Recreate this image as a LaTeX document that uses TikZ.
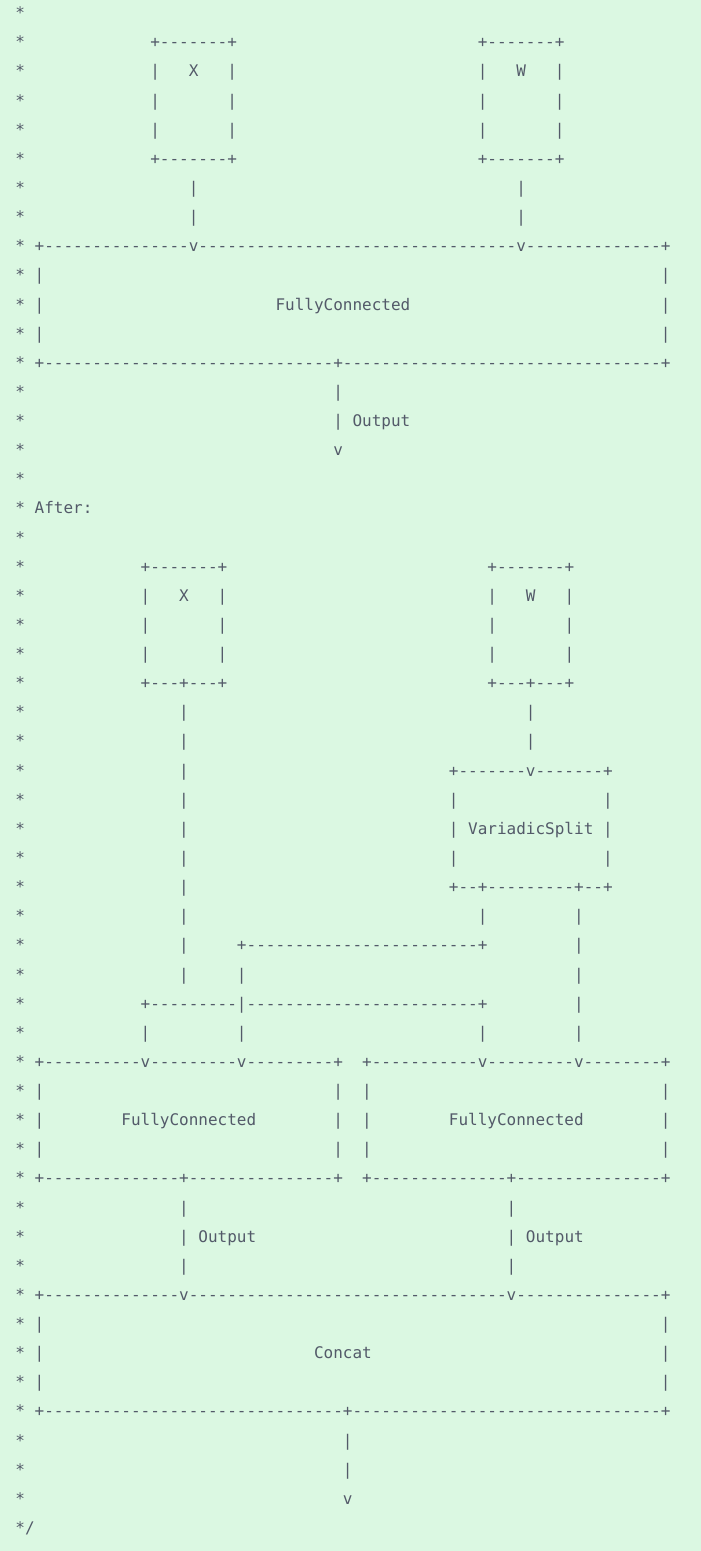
\documentclass[tikz,border=0pt]{standalone}
\usepackage{fontspec}
\setmonofont{DejaVu Sans Mono}
\usetikzlibrary{matrix}
\definecolor{commentbg}{HTML}{DBF8E2}
\definecolor{commenttext}{HTML}{535A69}
\newcommand\colgap[1]{\hskip#1\fontcharwd\font`x\relax}
\ExplSyntaxOn
\newcommand\dashes[1]{\prg_replicate:nn{#1}{-}}
\ExplSyntaxOff

\begin{document}
\begin{tikzpicture}[x=1pt,y=1pt]
            \path[use as bounding box, fill=commentbg] (0,0) rectangle (701,-1551);
            \matrix (m) [matrix of nodes, matrix anchor=north west, inner sep=0pt, row sep=0pt,
                nodes={anchor=base west, inner sep=0pt, text height=20pt, text depth=9.13pt,
                    text=commenttext, font=\ttfamily\fontsize{16pt}{29pt}\selectfont}] at (15.24,1.5) {
                * \\
                *\colgap{13}+\dashes{7}+\colgap{25}+\dashes{7}+ \\
                *\colgap{13}|\colgap{3}X\colgap{3}|\colgap{25}|\colgap{3}W\colgap{3}| \\
                *\colgap{13}|\colgap{7}|\colgap{25}|\colgap{7}| \\
                *\colgap{13}|\colgap{7}|\colgap{25}|\colgap{7}| \\
                *\colgap{13}+\dashes{7}+\colgap{25}+\dashes{7}+ \\
                *\colgap{17}|\colgap{33}| \\
                *\colgap{17}|\colgap{33}| \\
                *\colgap{1}+\dashes{15}v\dashes{33}v\dashes{14}+ \\
                *\colgap{1}|\colgap{64}| \\
                *\colgap{1}|\colgap{24}FullyConnected\colgap{26}| \\
                *\colgap{1}|\colgap{64}| \\
                *\colgap{1}+\dashes{30}+\dashes{33}+ \\
                *\colgap{32}| \\
                *\colgap{32}|\colgap{1}Output \\
                *\colgap{32}v \\
                * \\
                *\colgap{1}After: \\
                * \\
                *\colgap{12}+\dashes{7}+\colgap{27}+\dashes{7}+ \\
                *\colgap{12}|\colgap{3}X\colgap{3}|\colgap{27}|\colgap{3}W\colgap{3}| \\
                *\colgap{12}|\colgap{7}|\colgap{27}|\colgap{7}| \\
                *\colgap{12}|\colgap{7}|\colgap{27}|\colgap{7}| \\
                *\colgap{12}+\dashes{3}+\dashes{3}+\colgap{27}+\dashes{3}+\dashes{3}+ \\
                *\colgap{16}|\colgap{35}| \\
                *\colgap{16}|\colgap{35}| \\
                *\colgap{16}|\colgap{27}+\dashes{7}v\dashes{7}+ \\
                *\colgap{16}|\colgap{27}|\colgap{15}| \\
                *\colgap{16}|\colgap{27}|\colgap{1}VariadicSplit\colgap{1}| \\
                *\colgap{16}|\colgap{27}|\colgap{15}| \\
                *\colgap{16}|\colgap{27}+\dashes{2}+\dashes{9}+\dashes{2}+ \\
                *\colgap{16}|\colgap{30}|\colgap{9}| \\
                *\colgap{16}|\colgap{5}+\dashes{24}+\colgap{9}| \\
                *\colgap{16}|\colgap{5}|\colgap{34}| \\
                *\colgap{12}+\dashes{9}|\dashes{24}+\colgap{9}| \\
                *\colgap{12}|\colgap{9}|\colgap{24}|\colgap{9}| \\
                *\colgap{1}+\dashes{10}v\dashes{9}v\dashes{9}+\colgap{2}+\dashes{11}v\dashes{9}v\dashes{8}+ \\
                *\colgap{1}|\colgap{30}|\colgap{2}|\colgap{30}| \\
                *\colgap{1}|\colgap{8}FullyConnected\colgap{8}|\colgap{2}|\colgap{8}FullyConnected\colgap{8}| \\
                *\colgap{1}|\colgap{30}|\colgap{2}|\colgap{30}| \\
                *\colgap{1}+\dashes{14}+\dashes{15}+\colgap{2}+\dashes{14}+\dashes{15}+ \\
                *\colgap{16}|\colgap{33}| \\
                *\colgap{16}|\colgap{1}Output\colgap{26}|\colgap{1}Output \\
                *\colgap{16}|\colgap{33}| \\
                *\colgap{1}+\dashes{14}v\dashes{33}v\dashes{15}+ \\
                *\colgap{1}|\colgap{64}| \\
                *\colgap{1}|\colgap{28}Concat\colgap{30}| \\
                *\colgap{1}|\colgap{64}| \\
                *\colgap{1}+\dashes{31}+\dashes{32}+ \\
                *\colgap{33}| \\
                *\colgap{33}| \\
                *\colgap{33}v \\
                */ \\
            };
        \end{tikzpicture}
\end{document}
